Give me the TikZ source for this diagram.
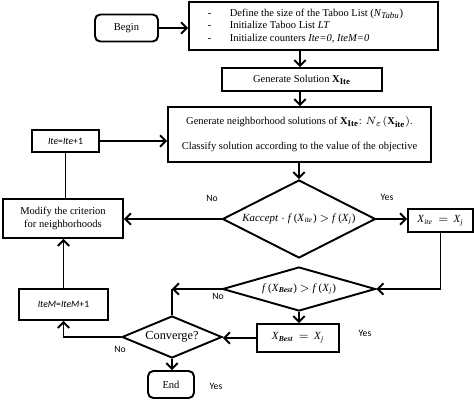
\documentclass[tikz,border=0pt]{standalone}
\usepackage{amsmath}
\usepackage{fontspec}
\setmainfont{Liberation Serif}
\setsansfont{Carlito}
\usetikzlibrary{shapes.geometric,arrows.meta,positioning,calc}

% italic variable with italic subscript
\newcommand{\var}[2]{\textit{#1}\textsubscript{\textit{#2}}}

\begin{document}
\begin{tikzpicture}[
    x=0.02cm, y=-0.02cm,
    font=\fontsize{6}{7.2}\selectfont,
    box/.style={rectangle, draw=black, line width=1.1pt, inner sep=1pt, align=center},
    term/.style={box, rounded corners=3pt},
    test/.style={diamond, draw=black, line width=1.1pt, inner sep=0pt},
    arrow/.style={-{Straight Barb[length=3.2pt,width=6.5pt]}, line width=1.1pt},
    line/.style={line width=1.1pt},
    formula/.style={font=\fontsize{6.2}{7.2}\selectfont},
    lbl/.style={font=\sffamily\fontsize{5.5}{6.5}\selectfont},
    counter/.style={box, font=\sffamily\fontsize{5.5}{6.5}\selectfont}
]
\useasboundingbox (0,0) rectangle (474,400);

% Start and initialisation
\node[term, minimum width=1.26cm, minimum height=0.54cm] (begin) at (126.5,28) {Begin};
\node[box, align=left, minimum width=4.98cm, minimum height=0.96cm] (init) at (313.5,26) {\makebox[12.5pt][l]{-}Define the size of the Taboo List (\var{N}{Tabu})\hspace*{0.32cm}\\
\makebox[12.5pt][l]{-}Initialize Taboo List \textit{LT}\\
\makebox[12.5pt][l]{-}Initialize counters \textit{Ite=0, IteM=0}};
\node[box, minimum width=3.2cm, minimum height=0.46cm] (gen) at (302,79.5) {Generate Solution $\mathbf{X}_{\mathbf{Ite}}$};

% Neighborhood
\node[box, minimum width=5.26cm, minimum height=1.1cm] (nbh) at (299.5,134.5) {Generate neighborhood solutions of $\mathbf{X}_{\mathbf{Ite}}$: $N_\varepsilon(\mathbf{X}_{\mathbf{ite}})$.\\[7pt]
Classify solution according to the value of the objective};
\node[counter, minimum width=1.34cm, minimum height=0.44cm] (ite) at (65.5,141) {\textit{Ite}=\textit{Ite}+1};
\node[box, minimum width=2.4cm, minimum height=0.78cm] (modify) at (63,218.5) {Modify the criterion\\for neighborhoods};

% Decisions
\node[test, formula, aspect=2, minimum width=3.06cm, minimum height=1.56cm] (accept) at (299,219) {\textit{Kaccept} $\cdot$ \textit{f}\,(\var{X}{ite}) $>$ \textit{f}\,(\var{X}{j})};
\node[box, formula, minimum width=1.3cm, minimum height=0.46cm] (xite) at (440.5,220.5) {\var{X}{ite}\ \ $=$\ \ \var{X}{j}};
\node[test, formula, aspect=3.5, minimum width=3.06cm, minimum height=0.88cm] (better) at (299,289) {\textit{f}\,(\textit{X}\textsubscript{\textbf{\textit{Best}}}) $>$ \textit{f}\,(\var{X}{j})};
\node[box, formula, minimum width=1.64cm, minimum height=0.56cm] (xbest) at (298,338) {\textit{X}\textsubscript{\textbf{\textit{Best}}}\ \ $=$\ \ \var{X}{j}};
\node[test, aspect=2.4, minimum width=2cm, minimum height=0.84cm, font=\fontsize{7}{8}\selectfont] (conv) at (172,337) {Converge?};
\node[counter, minimum width=1.78cm, minimum height=0.62cm] (item) at (63.5,304.5) {\textit{IteM}=\textit{IteM}+1};
\node[term, minimum width=0.92cm, minimum height=0.54cm] (end) at (171,384.5) {End};
\coordinate (corner) at (172,289);

% Connectors
\draw[arrow] (begin.east) -- (begin.east -| init.west);
\draw[arrow] (init.south -| 300,0) -- (300,0 |- gen.north);
\draw[arrow] (gen.south -| 300,0) -- (300,0 |- nbh.north);
\draw[arrow] (ite.east) -- (ite.east -| nbh.west);
\draw[arrow] (nbh.south -| accept.north) -- (accept.north);
\draw[line] (modify.north -| ite.south) -- (ite.south);
\draw[arrow] (accept.west) -- (accept.west -| modify.east);
\draw[arrow] (accept.east) -- (accept.east -| xite.west);
\draw[arrow] (xite.south) -- (xite.south |- better.east) -- (better.east);
\draw[arrow] (better.south) -- (better.south |- xbest.north);
\draw[arrow] (better.west) -- (corner);
\draw[line] (corner) -- (conv.north);
\draw[arrow] (xbest.west) -- (xbest.west -| conv.east);
\draw[arrow] (conv.west) -- (conv.west -| item.south) -- (item.south);
\draw[arrow] (item.north) -- (item.north |- modify.south);
\draw[arrow] (conv.south) -- (conv.south |- end.north);

% Branch labels
\node[lbl] (no1) at (212,198) {No};
\node[lbl] (yes1) at (387,197) {Yes};
\node[lbl] (no2) at (218,296) {No};
\node[lbl] (yes2) at (365,333) {Yes};
\node[lbl] (no3) at (120,349) {No};
\node[lbl] (yes3) at (216,386) {Yes};

\end{tikzpicture}
\end{document}
